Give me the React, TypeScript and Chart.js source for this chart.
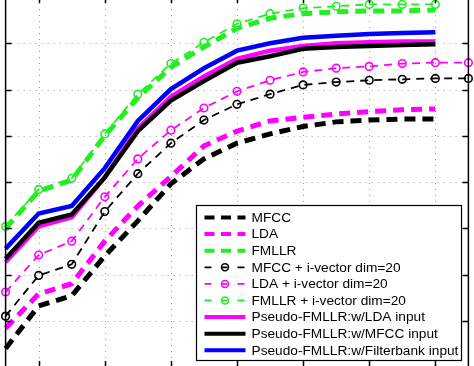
import React, { useEffect, useRef } from 'react';
import { Chart, registerables } from 'chart.js';

Chart.register(...registerables);

// x positions (15 steps)
const xValues = [1, 2, 3, 4, 5, 6, 7, 8, 9, 10, 11, 12, 13, 14, 15];
const xGridTicks = [2, 4, 6, 8, 10, 12, 14];
const yGridTicks = [35, 40, 45, 50, 55, 60, 65];

// series values
const mfcc = [32.0, 36.6, 37.7, 42.0, 45.8, 49.8, 52.5, 54.2, 55.2, 56.0, 56.5, 56.7, 56.8, 56.8];
const lda = [34.2, 37.9, 39.0, 43.6, 47.4, 50.6, 53.9, 55.5, 56.6, 57.0, 57.35, 57.6, 57.8, 57.9];
const fmllr = [45.0, 49.0, 50.2, 55.0, 59.1, 62.4, 64.6, 66.6, 67.7, 68.2, 68.4, 68.5, 68.5, 68.6];
const mfccIvec = [35.5, 39.9, 41.1, 46.8, 50.9, 54.2, 56.7, 58.4, 59.5, 60.5, 60.8, 61.0, 61.1, 61.2, 61.2];
const ldaIvec = [38.1, 42.1, 43.6, 48.4, 52.5, 55.6, 58.0, 59.8, 61.0, 61.9, 62.3, 62.5, 62.8, 62.9, 62.9];
const fmllrIvec = [45.2, 49.2, 50.4, 55.2, 59.5, 62.8, 65.1, 67.1, 68.2, 68.8, 69.0, 69.2, 69.2, 69.2];
const pfLda = [41.35, 45.2, 46.2, 50.5, 55.8, 59.2, 61.4, 63.3, 64.2, 64.7, 65.0, 65.1, 65.2, 65.2];
const pfMfcc = [41.7, 45.6, 46.5, 50.5, 55.5, 58.8, 60.9, 62.9, 63.6, 64.4, 64.6, 64.7, 64.8, 64.9];
const pfFbank = [42.8, 46.6, 47.4, 51.5, 56.6, 60.05, 62.3, 64.2, 65.0, 65.6, 65.8, 66.0, 66.1, 66.2];

const seriesLabels = [
  'MFCC',
  'LDA',
  'FMLLR',
  'MFCC + i-vector dim=20',
  'LDA + i-vector dim=20',
  'FMLLR + i-vector dim=20',
  'Pseudo-FMLLR:w/LDA input',
  'Pseudo-FMLLR:w/MFCC input',
  'Pseudo-FMLLR:w/Filterbank input',
];

const seriesData = [mfcc, lda, fmllr, mfccIvec, ldaIvec, fmllrIvec, pfLda, pfMfcc, pfFbank];
const seriesColors = ['#000000', '#ff00ff', '#22ee22', '#000000', '#ff00ff', '#22ee22', '#ff00ff', '#000000', '#0000ff'];
// kind: 'thick' dashed, 'marker' thin dashed with circles, 'solid'
const seriesKinds = ['thick', 'thick', 'thick', 'marker', 'marker', 'marker', 'solid', 'solid', 'solid'];

const framePlugin = {
  id: 'matlabFrame',
  beforeDatasetsDraw(chart: any) {
    const { ctx, chartArea: a, scales } = chart;
    const xs = scales.x;
    const ys = scales.y;
    ctx.save();
    ctx.strokeStyle = '#9a9a9a';
    ctx.lineWidth = 1;
    ctx.setLineDash([1, 5]);
    for (const t of xGridTicks) {
      const px = Math.round(xs.getPixelForValue(t)) + 0.5;
      ctx.beginPath();
      ctx.moveTo(px, a.top);
      ctx.lineTo(px, a.bottom);
      ctx.stroke();
    }
    for (const t of yGridTicks) {
      const py = Math.round(ys.getPixelForValue(t)) + 0.5;
      ctx.beginPath();
      ctx.moveTo(a.left, py);
      ctx.lineTo(a.right, py);
      ctx.stroke();
    }
    ctx.restore();
  },
  afterDatasetsDraw(chart: any) {
    const { ctx, chartArea: a, scales } = chart;
    const xs = scales.x;
    const ys = scales.y;
    ctx.save();
    ctx.setLineDash([]);
    ctx.strokeStyle = '#000';
    ctx.lineWidth = 1.5;
    ctx.strokeRect(a.left, a.top, a.right - a.left, a.bottom - a.top);
    ctx.lineWidth = 1.5;
    const tl = 6;
    for (const t of xGridTicks) {
      const px = Math.round(xs.getPixelForValue(t)) + 0.5;
      ctx.beginPath();
      ctx.moveTo(px, a.top);
      ctx.lineTo(px, a.top + tl);
      ctx.moveTo(px, a.bottom);
      ctx.lineTo(px, a.bottom - tl);
      ctx.stroke();
    }
    for (const t of yGridTicks) {
      const py = Math.round(ys.getPixelForValue(t)) + 0.5;
      ctx.beginPath();
      ctx.moveTo(a.left, py);
      ctx.lineTo(a.left + tl, py);
      ctx.moveTo(a.right, py);
      ctx.lineTo(a.right - tl, py);
      ctx.stroke();
    }

    // legend
    const bw = 265;
    const bh = 155;
    const bx = Math.round(a.right - 7 - bw) + 0.5;
    const by = Math.round(a.bottom - 7 - bh) + 0.5;
    ctx.fillStyle = '#fff';
    ctx.fillRect(bx, by, bw, bh);
    ctx.lineWidth = 1.2;
    ctx.strokeStyle = '#000';
    ctx.strokeRect(bx, by, bw, bh);
    ctx.font = '13.7px "Liberation Sans", Arial, sans-serif';
    ctx.textBaseline = 'middle';
    ctx.textAlign = 'left';
    const rowH = 16.6;
    const x0 = bx + 8;
    const x1 = bx + 49;
    for (let i = 0; i < seriesLabels.length; i++) {
      const cy = by + 12 + i * rowH;
      const col = seriesColors[i];
      const kind = seriesKinds[i];
      ctx.strokeStyle = col;
      if (kind === 'thick') {
        ctx.lineWidth = 4;
        ctx.setLineDash([10, 6.5]);
        ctx.beginPath();
        ctx.moveTo(x0, cy);
        ctx.lineTo(x1, cy);
        ctx.stroke();
        ctx.setLineDash([]);
      } else if (kind === 'marker') {
        ctx.lineWidth = 1.8;
        ctx.setLineDash([]);
        ctx.beginPath();
        ctx.moveTo(x0, cy);
        ctx.lineTo(x0 + 7, cy);
        ctx.moveTo(x1 - 8, cy);
        ctx.lineTo(x1 - 1, cy);
        ctx.moveTo(x0 + 17, cy);
        ctx.lineTo(x0 + 23, cy);
        ctx.stroke();
        ctx.lineWidth = 1.5;
        ctx.beginPath();
        ctx.arc((x0 + x1) / 2, cy, 3.5, 0, Math.PI * 2);
        ctx.stroke();
      } else {
        ctx.lineWidth = 4;
        ctx.setLineDash([]);
        ctx.beginPath();
        ctx.moveTo(x0, cy);
        ctx.lineTo(x1, cy);
        ctx.stroke();
      }
      ctx.fillStyle = '#000';
      ctx.fillText(seriesLabels[i], bx + 55, cy + 0.5);
    }
    ctx.restore();
  },
};

export default function App() {
  const canvasRef = useRef<HTMLCanvasElement | null>(null);

  useEffect(() => {
    document.documentElement.style.overflow = 'hidden';
    document.body.style.overflow = 'hidden';
    const canvas = canvasRef.current;
    if (!canvas) return;

    const datasets = seriesData.map((vals, idx) => {
      const kind = seriesKinds[idx];
      const col = seriesColors[idx];
      const base: any = {
        label: seriesLabels[idx],
        data: vals.map((y, i) => ({ x: xValues[i], y })),
        borderColor: col,
        backgroundColor: 'rgba(0,0,0,0)',
        tension: 0,
        order: 9 - idx,
        clip: false,
      };
      if (kind === 'thick') {
        base.borderWidth = 5;
        base.borderDash = [11, 7];
        base.pointRadius = 0;
      } else if (kind === 'marker') {
        base.borderWidth = 1.8;
        base.borderDash = [8, 6];
        base.pointRadius = 3.8;
        base.pointBorderWidth = 1.6;
        base.pointBorderColor = col;
        base.pointBackgroundColor = 'rgba(0,0,0,0)';
        base.pointStyle = 'circle';
      } else {
        base.borderWidth = 4.5;
        base.pointRadius = 0;
      }
      return base;
    });

    const chart = new Chart(canvas, {
      type: 'line',
      data: { datasets },
      options: {
        animation: false,
        responsive: false,
        maintainAspectRatio: false,
        devicePixelRatio: 1,
        layout: { padding: { left: 4, right: 3, top: 7, bottom: 13 } },
        plugins: {
          legend: { display: false },
          tooltip: { enabled: false },
          title: { display: false },
        },
        scales: {
          x: { type: 'linear', min: 1, max: 15, display: false },
          y: { type: 'linear', min: 30, max: 70, display: false },
        },
      },
      plugins: [framePlugin],
    });
    return () => chart.destroy();
  }, []);

  return (
    <div style={{ position: 'absolute', left: 0, top: -10, width: 474, height: 390, background: '#fff' }}>
      <canvas ref={canvasRef} width={474} height={390} style={{ width: 474, height: 390, display: 'block' }} />
    </div>
  );
}
